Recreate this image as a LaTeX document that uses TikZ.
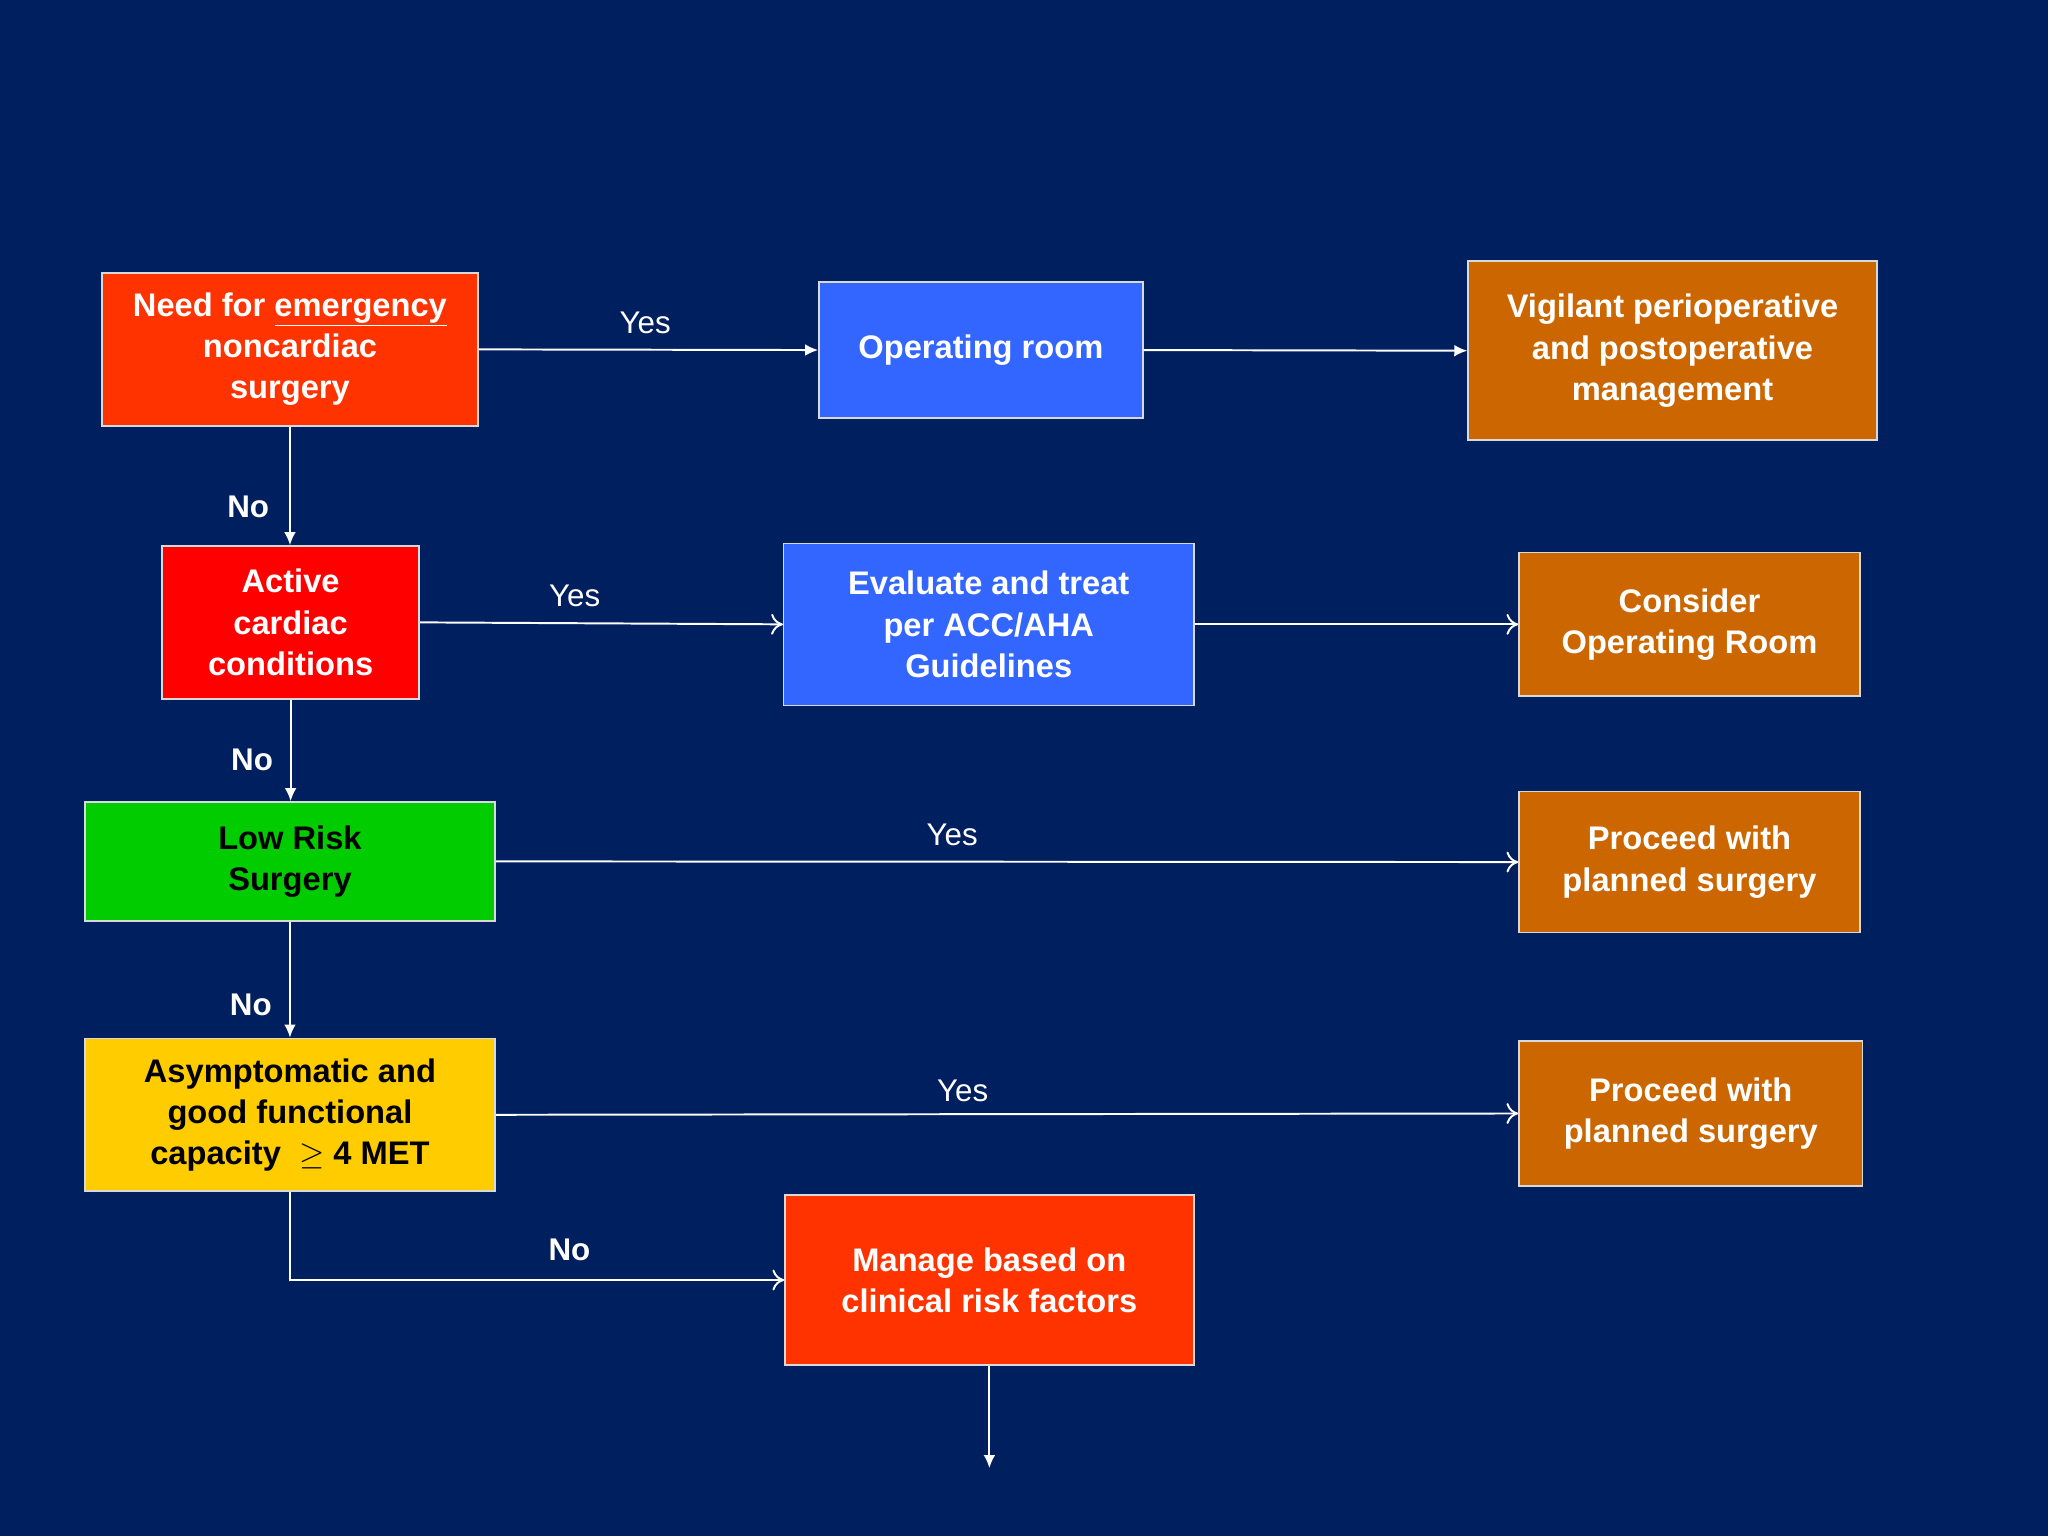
\documentclass[tikz,border=0pt]{standalone}
\usepackage{fontspec}
\setmainfont{Liberation Sans}
\usetikzlibrary{arrows.meta}
\definecolor{bg}{RGB}{0,31,95}
\definecolor{redor}{RGB}{255,51,0}
\definecolor{bblue}{RGB}{51,102,255}
\definecolor{orng}{RGB}{204,102,0}
\definecolor{rred}{RGB}{255,0,0}
\definecolor{grn}{RGB}{0,204,0}
\definecolor{ylw}{RGB}{255,204,0}
\begin{document}
\begin{tikzpicture}[x=1pt,y=-1pt,
 box/.style={draw=white!85!black,line width=1.2pt,align=center,inner sep=0pt,
   font=\fontsize{25}{31.5}\selectfont\bfseries,text=white},
 lnk/.style={draw=white,line width=1.5pt},
 fa/.style={lnk,-{Latex[length=10pt,width=9pt]}},
 oa/.style={lnk,-{To[length=9pt,width=16pt]}},
 yes/.style={text=white,font=\fontsize{24}{28}\selectfont},
 no/.style={text=white,font=\fontsize{24}{28}\selectfont\bfseries}]
\fill[bg] (0,0) rectangle (1568,1176);
\useasboundingbox (0,0) rectangle (1568,1176);
\node[box,fill=redor,minimum width=288,minimum height=117] (A) at (222,267.5) {Need for \underline{emergency}\\noncardiac\\surgery};
\node[box,fill=bblue,minimum width=248,minimum height=104] (B) at (751,268) {Operating room};
\node[box,fill=orng,minimum width=313,minimum height=137] (C) at (1280.5,268.5) {Vigilant perioperative\\and postoperative\\management};
\node[box,fill=rred,minimum width=197,minimum height=117] (D) at (222.5,476.5) {Active\\cardiac\\conditions};
\node[box,fill=bblue,minimum width=314,minimum height=124] (E) at (757,478) {Evaluate and treat\\per ACC/AHA\\Guidelines};
\node[box,fill=orng,minimum width=261,minimum height=110] (F) at (1293.5,478) {Consider\\Operating Room};
\node[box,fill=grn,text=black,minimum width=314,minimum height=91] (G) at (222,659.5) {Low Risk\\Surgery};
\node[box,fill=orng,minimum width=261,minimum height=108] (H) at (1293.5,660) {Proceed with\\planned surgery};
\node[box,fill=ylw,text=black,minimum width=314,minimum height=117] (I) at (222,853.5) {Asymptomatic and\\good functional\\capacity ~$\geq$ 4 MET};
\node[box,fill=orng,minimum width=263,minimum height=111] (J) at (1294.5,852.5) {Proceed with\\planned surgery};
\node[box,fill=redor,minimum width=313,minimum height=130] (K) at (757.5,980) {Manage based on\\clinical risk factors};
\coordinate (end) at (757.5,1124);
\draw[fa] (A.east) -- (B.west);
\draw[fa] (B.east) -- (C.west);
\draw[fa] (A.south) -- (A.south|-D.north);
\draw[oa] (D.east) -- (E.west);
\draw[oa] (E.east) -- (F.west);
\draw[fa] (D.south) -- (D.south|-G.north);
\draw[oa] (G.east) -- (H.west);
\draw[fa] (G.south) -- (I.north);
\draw[oa] (I.east) -- (J.west);
\draw[oa] (I.south) |- (K.west);
\draw[fa] (K.south) -- (end);
\node[yes] (y1) at (494,247) {Yes};
\node[yes] (y2) at (440,456) {Yes};
\node[yes] (y3) at (729,639) {Yes};
\node[yes] (y4) at (737,835) {Yes};
\node[no] (n1) at (190,388) {No};
\node[no] (n2) at (193,582) {No};
\node[no] (n3) at (192,769) {No};
\node[no] (n4) at (436,957) {No};
\end{tikzpicture}
\end{document}
